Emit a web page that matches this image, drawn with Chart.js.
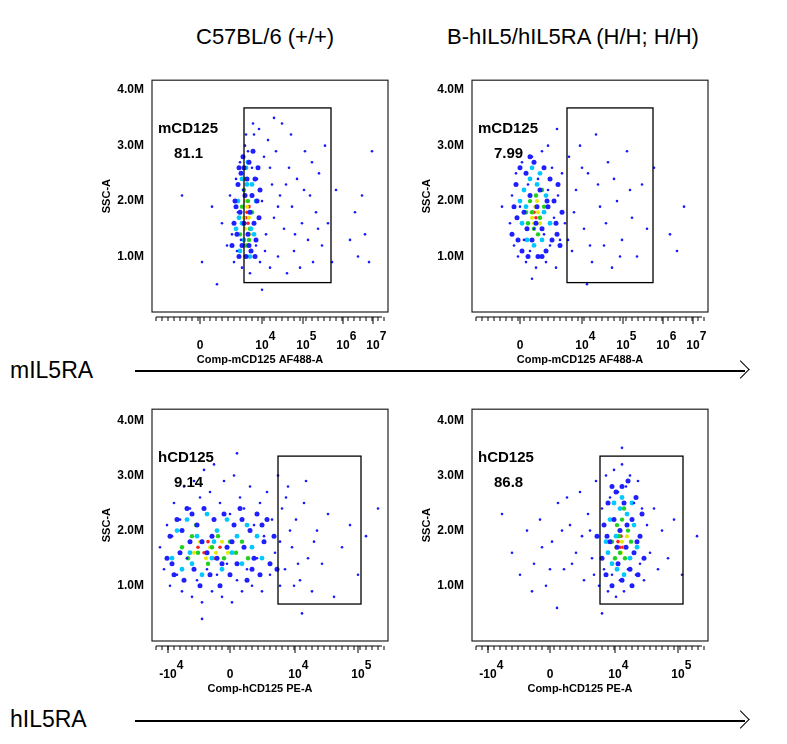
<!DOCTYPE html>
<html><head><meta charset="utf-8">
<script src="https://cdn.jsdelivr.net/npm/chart.js@4"></script>
<style>
body{margin:0;background:#fff;font-family:Arial,"Liberation Sans",sans-serif;}
#root{position:relative;width:787px;height:744px;}
.c{position:absolute;}
.t{position:absolute;font-size:22px;color:#000;white-space:nowrap;}
.arrow{position:absolute;height:1.5px;background:#000;}
.arrow:after{content:"";position:absolute;right:-2px;top:-7px;width:12px;height:12px;border-top:1.5px solid #000;border-right:1.5px solid #000;transform:rotate(45deg);transform-origin:center;}
</style></head><body>
<div id="root">
<div class="t" style="left:196px;top:24px">C57BL/6 (+/+)</div>
<div class="t" style="left:447px;top:24px">B-hIL5/hIL5RA (H/H; H/H)</div>
<div class="t" style="left:10px;top:357px;font-size:23px">mIL5RA</div>
<div class="arrow" style="left:135px;top:370px;width:610px"></div>
<div class="t" style="left:10px;top:706px;font-size:23px">hIL5RA</div>
<div class="arrow" style="left:135px;top:720px;width:610px"></div>
</div>
<script>
// x values in display units (0-236, biexponential axis), y in millions
const topTicks = [[48, "0", ""], [110, "10", "4"], [151, "10", "5"], [191, "10", "6"], [221, "10", "7"]];
const botTicks = [[16, "-10", "4"], [78, "0", ""], [143, "10", "4"], [206, "10", "5"]];
const yTicks = [1, 2, 3, 4];

// panel 1: C57BL/6 mCD125
const p1Blue = [70,1.6, 75,1.2, 78,2.1, 80,1.4, 82,0.9, 84,2.4, 85,1.1, 86,1.8, 88,2.7, 89,1.3, 90,0.8, 91,2.2, 93,3.0, 95,1.0, 96,2.9, 98,0.7, 100,2.6, 102,3.2, 104,1.2, 105,2.4, 107,3.3, 108,0.9, 110,2.0, 112,2.8, 114,1.4, 116,3.1, 118,0.8, 120,2.3, 122,1.7, 124,2.9, 126,1.0, 128,2.1, 130,3.4, 132,1.5, 135,0.7, 137,2.6, 140,1.9, 142,1.1, 145,2.4, 148,0.8, 150,1.6, 153,2.9, 156,1.3, 158,2.1, 161,0.9, 164,1.8, 167,2.5, 170,1.2, 173,3.0, 176,1.6, 180,0.9, 184,2.2, 198,1.3, 203,1.8, 206,1.0, 210,2.1, 213,1.4, 217,0.9, 220,2.9, 60,1.9, 50,0.9, 30,2.1, 65,0.5, 110,0.4, 122,3.5, 139,3.2, 118,2.6, 126,1.9, 134,2.3, 143,1.4, 152,2.2, 160,2.7, 166,1.5, 113,1.1, 101,3.4, 94,3.2];
const p1Core = [80,1.2, 82,1.6, 83,2.0, 85,1.4, 86,2.3, 87,1.0, 88,1.8, 89,2.5, 90,1.2, 91,2.8, 92,1.6, 93,2.1, 94,1.0, 95,2.4, 96,1.4, 97,2.7, 98,1.8, 99,1.1, 100,2.1, 101,2.9, 102,1.6, 103,2.4, 104,1.3, 105,2.0, 106,2.6, 107,1.7, 108,2.2, 84,1.9, 87,2.6, 92,2.6, 97,1.2, 103,1.0];
const p1Cyan = [84,1.5, 86,2.0, 88,1.1, 90,2.4, 92,1.3, 94,2.6, 98,1.0, 100,2.3, 102,1.4, 104,2.0, 96,2.7, 87,1.7, 90,1.6, 95,2.3, 99,1.5];
const p1Green = [88,1.4, 90,1.9, 92,2.2, 94,1.2, 96,2.0, 98,1.5, 100,1.8, 91,1.6, 93,2.4, 97,1.3];
const p1Yellow = [93,1.5, 95,1.9, 97,1.7, 94,2.0, 98,1.4, 92,1.7];
const p1Red = [94,1.7, 96,1.6, 95,1.8, 97,1.9];

// panel 2: B-hIL5/hIL5RA mCD125
const p2Blue = [38,1.6, 40,2.1, 42,1.2, 44,2.5, 46,1.0, 48,1.9, 50,2.7, 52,1.3, 54,0.9, 56,2.3, 58,1.1, 60,2.8, 62,1.5, 64,0.8, 66,2.4, 68,1.0, 70,2.9, 72,1.4, 74,0.9, 76,2.2, 78,1.2, 80,2.6, 82,1.7, 84,0.8, 86,2.1, 88,1.3, 90,2.5, 93,1.6, 97,2.8, 100,1.1, 104,2.2, 108,3.0, 112,1.5, 116,2.5, 120,0.9, 124,3.2, 128,1.9, 132,1.2, 136,2.7, 140,0.8, 145,2.0, 150,1.3, 155,2.9, 160,1.7, 165,1.0, 170,2.3, 175,1.5, 182,2.6, 198,1.4, 205,1.1, 212,1.9, 30,1.9, 85,3.3, 115,0.5, 60,0.6, 102,1.8, 110,2.6, 118,1.2, 126,2.3, 134,1.6, 142,2.4, 148,1.0, 158,2.2, 96,1.3, 76,3.0];
const p2Core = [40,1.4, 42,1.9, 44,2.3, 46,1.3, 48,2.6, 50,1.1, 52,1.8, 54,2.5, 56,1.0, 58,2.1, 60,1.3, 62,2.7, 64,1.6, 66,1.0, 68,2.2, 70,1.5, 72,2.6, 74,1.1, 76,1.9, 78,2.4, 80,1.3, 82,2.0, 84,1.6, 86,2.3, 88,1.2, 90,1.8, 45,1.7, 55,1.5, 65,1.9, 75,2.0, 85,1.4, 58,2.8, 70,1.0];
const p2Cyan = [50,1.6, 52,2.2, 55,1.3, 58,2.4, 62,1.2, 65,2.3, 70,1.3, 74,2.1, 78,1.6, 60,2.6, 54,1.9, 68,2.5, 48,2.0, 72,1.8];
const p2Green = [56,1.6, 58,2.0, 62,1.5, 64,2.1, 68,1.7, 72,1.9, 60,1.8, 66,1.4, 54,1.8, 70,2.2];
const p2Yellow = [60,1.7, 63,1.9, 66,1.8, 62,1.6, 65,2.0, 68,1.6];
const p2Red = [62,1.8, 64,1.7, 65,1.9];

// panel 3: C57BL/6 hCD125
const p3Blue = [8,1.7, 12,1.3, 15,2.1, 18,1.0, 20,1.9, 22,2.5, 25,1.2, 28,2.2, 30,0.9, 32,2.8, 35,1.5, 38,2.4, 40,0.8, 42,2.9, 45,1.1, 48,2.6, 50,0.7, 52,3.1, 55,1.3, 58,2.7, 60,0.9, 62,3.2, 65,1.2, 68,2.5, 70,0.8, 72,2.9, 75,1.4, 78,2.3, 80,0.7, 82,3.0, 85,1.1, 88,2.6, 90,0.9, 92,2.4, 95,1.3, 98,2.8, 100,1.0, 102,2.1, 105,1.5, 108,2.5, 110,0.9, 112,1.9, 115,2.7, 118,1.2, 120,2.2, 123,1.6, 126,3.0, 128,1.0, 130,2.4, 133,1.3, 136,2.8, 140,1.7, 144,2.2, 148,1.1, 152,2.5, 156,1.5, 160,0.9, 165,2.0, 170,1.4, 176,2.3, 182,0.8, 190,1.7, 198,2.1, 206,1.2, 214,1.9, 226,2.4, 50,0.4, 150,0.5, 85,3.4, 138,2.0, 146,1.4, 154,2.9, 162,1.8, 134,2.6, 142,1.0, 128,1.8];
const p3Core = [15,1.5, 18,1.9, 22,1.2, 25,2.2, 28,1.6, 32,1.1, 35,2.4, 38,1.8, 42,1.3, 45,2.1, 48,1.0, 52,2.4, 55,1.6, 58,1.2, 62,2.2, 65,1.5, 68,1.0, 72,2.3, 75,1.7, 78,1.2, 82,2.1, 85,1.4, 88,2.4, 92,1.7, 95,1.1, 98,2.0, 102,1.5, 105,2.3, 108,1.2, 112,1.8, 115,2.2, 118,1.4, 122,1.9, 125,1.3, 30,2.0, 40,2.3, 50,1.8, 60,1.9, 70,1.4, 80,1.8, 90,2.2, 100,1.3, 110,2.1, 20,1.4];
const p3Cyan = [20,1.5, 25,2.0, 30,1.3, 35,2.2, 40,1.4, 45,1.9, 50,1.2, 55,2.3, 60,1.5, 65,2.0, 70,1.3, 75,2.2, 80,1.6, 85,1.9, 90,1.4, 95,2.1, 100,1.7, 105,1.9, 110,1.5, 38,1.6, 62,1.8];
const p3Green = [30,1.7, 36,1.5, 40,1.9, 46,1.6, 50,1.8, 56,1.4, 60,1.7, 66,1.9, 72,1.5, 78,1.8, 84,1.6, 90,1.8, 96,1.5, 44,2.1];
const p3Yellow = [42,1.6, 48,1.8, 54,1.5, 58,1.7, 64,1.6, 70,1.8, 76,1.6];
const p3Red = [46,1.7, 52,1.6, 56,1.8, 62,1.5, 68,1.7];

// panel 4: B-hIL5/hIL5RA hCD125
const p4Blue = [40,1.6, 48,1.2, 55,2.0, 62,1.4, 68,2.2, 74,1.0, 80,1.8, 86,2.5, 92,1.3, 98,2.1, 104,1.6, 108,2.7, 112,1.1, 116,2.3, 120,1.5, 124,2.9, 127,1.0, 130,2.4, 132,1.3, 134,3.0, 136,0.9, 138,2.6, 140,1.2, 142,3.1, 144,0.8, 146,2.7, 148,1.1, 150,3.2, 152,0.9, 154,2.8, 156,1.3, 158,3.0, 160,1.0, 162,2.5, 164,1.2, 166,2.9, 168,1.4, 170,2.4, 172,1.1, 175,2.1, 178,1.6, 182,2.4, 186,1.3, 190,2.0, 196,1.5, 202,2.2, 210,1.2, 225,1.9, 30,2.3, 60,0.9, 85,0.6, 150,3.5, 130,0.5, 70,1.7, 90,2.0, 100,1.4, 110,1.9, 118,2.0, 122,1.2, 95,2.6, 78,1.3];
const p4Core = [130,1.5, 132,2.1, 134,1.2, 136,2.5, 138,1.8, 140,1.0, 142,2.2, 144,2.7, 146,1.4, 148,2.0, 150,1.1, 152,2.5, 154,1.7, 156,2.9, 158,1.3, 160,2.2, 162,1.6, 164,2.6, 166,1.2, 168,1.9, 170,2.3, 172,1.5, 135,1.9, 145,1.7, 155,2.1, 165,1.8, 140,2.8, 150,2.8, 160,1.0, 125,1.9];
const p4Cyan = [136,1.6, 138,2.2, 140,1.4, 142,2.5, 145,1.3, 148,2.4, 152,1.2, 155,2.3, 158,1.5, 162,2.1, 165,1.7, 150,2.6, 144,1.9, 160,2.5, 134,1.8];
const p4Green = [140,1.8, 143,1.5, 145,2.1, 148,1.6, 150,2.2, 153,1.5, 156,2.0, 159,1.8, 147,1.9, 152,2.4];
const p4Yellow = [144,1.7, 147,2.0, 150,1.8, 153,1.7, 149,1.6, 155,1.9];
const p4Red = [146,1.8, 149,1.9, 151,1.7, 148,1.7];

const tierColors = ["#1a1aff", "#2020ff", "#00c8ff", "#20d020", "#e8e800", "#ff2020"];
const tierRadius = [1.3, 2.5, 2.4, 2.2, 2, 1.8];

function toPts(arr) {
  const out = [];
  for (let i = 0; i < arr.length; i += 2) out.push({ x: arr[i], y: arr[i + 1] });
  return out;
}

const panels = [
  { left: 100, top: 70, sets: [p1Blue, p1Core, p1Cyan, p1Green, p1Yellow, p1Red], ticks: topTicks, yMax: 4.18,
    gate: [92, 179, 0.53, 3.68], label: "mCD125", value: "81.1", xTitle: "Comp-mCD125 AF488-A" },
  { left: 420, top: 70, sets: [p2Blue, p2Core, p2Cyan, p2Green, p2Yellow, p2Red], ticks: topTicks, yMax: 4.18,
    gate: [95, 181, 0.53, 3.68], label: "mCD125", value: "7.99", xTitle: "Comp-mCD125 AF488-A" },
  { left: 100, top: 399, sets: [p3Blue, p3Core, p3Cyan, p3Green, p3Yellow, p3Red], ticks: botTicks, yMax: 4.2,
    gate: [126, 209, 0.67, 3.35], label: "hCD125", value: "9.14", xTitle: "Comp-hCD125 PE-A" },
  { left: 420, top: 399, sets: [p4Blue, p4Core, p4Cyan, p4Green, p4Yellow, p4Red], ticks: botTicks, yMax: 4.2,
    gate: [128, 211, 0.67, 3.35], label: "hCD125", value: "86.8", xTitle: "Comp-hCD125 PE-A" }
];

const root = document.getElementById("root");

panels.forEach(p => {
  const cv = document.createElement("canvas");
  cv.className = "c";
  cv.width = 295;
  cv.height = 302;
  cv.style.left = p.left + "px";
  cv.style.top = p.top + "px";
  cv.style.width = "295px";
  cv.style.height = "302px";
  root.appendChild(cv);

  const decor = {
    id: "decor",
    afterDatasetsDraw(chart) {
      const { ctx, scales: { x, y }, chartArea: a } = chart;
      ctx.save();
      // gate
      const [x0, x1, y0, y1] = p.gate;
      ctx.strokeStyle = "#000";
      ctx.lineWidth = 1.3;
      ctx.strokeRect(x.getPixelForValue(x0), y.getPixelForValue(y1),
        x.getPixelForValue(x1) - x.getPixelForValue(x0), y.getPixelForValue(y0) - y.getPixelForValue(y1));
      // frame
      ctx.lineWidth = 1.2;
      ctx.strokeStyle = "#222";
      ctx.strokeRect(a.left, a.top, a.right - a.left, a.bottom - a.top);
      // gate label
      ctx.fillStyle = "#000";
      ctx.font = "bold 15px Arial";
      ctx.textAlign = "left";
      ctx.fillText(p.label, a.left + 6, a.top + 53);
      ctx.fillText(p.value, a.left + 22, a.top + 78);
      // x ticks
      ctx.lineWidth = 1;
      ctx.strokeStyle = "#000";
      p.ticks.forEach(([v, base, sup]) => {
        const px = x.getPixelForValue(v);
        ctx.beginPath(); ctx.moveTo(px, a.bottom + 5); ctx.lineTo(px, a.bottom + 12); ctx.stroke();
        ctx.font = "bold 12px Arial";
        ctx.textAlign = "center";
        const w = ctx.measureText(base).width;
        ctx.fillText(base, px, a.bottom + 37);
        if (sup) {
          ctx.textAlign = "left";
          ctx.fillText(sup, px + w / 2, a.bottom + 28);
        }
      });
      // minor ticks
      for (let v = 4; v < 236; v += 6) {
        const px = x.getPixelForValue(v);
        ctx.beginPath(); ctx.moveTo(px, a.bottom + 5); ctx.lineTo(px, a.bottom + 9); ctx.stroke();
      }
      ctx.beginPath(); ctx.moveTo(a.left + 4, a.bottom + 5); ctx.lineTo(a.right - 6, a.bottom + 5); ctx.stroke();
      ctx.font = "bold 11px Arial";
      ctx.textAlign = "center";
      ctx.fillText(p.xTitle, (a.left + a.right) / 2 - 10, a.bottom + 51);
      ctx.restore();
    }
  };

  new Chart(cv.getContext("2d"), {
    type: "scatter",
    data: {
      datasets: p.sets.map((s, i) => ({
        data: toPts(s),
        backgroundColor: tierColors[i],
        borderWidth: 0,
        pointRadius: tierRadius[i]
      }))
    },
    options: {
      responsive: false,
      animation: false,
      devicePixelRatio: 1,
      layout: { padding: { top: 6, right: 7 } },
      plugins: { legend: { display: false }, tooltip: { enabled: false } },
      scales: {
        x: {
          type: "linear", min: 0, max: 236,
          grid: { display: false, drawTicks: false },
          border: { display: false },
          ticks: { display: false },
          afterFit: s => { s.height = 60; }
        },
        y: {
          type: "linear", min: 0, max: p.yMax,
          afterBuildTicks: s => { s.ticks = yTicks.map(v => ({ value: v })); },
          grid: { display: false, drawTicks: true, tickLength: 5, tickColor: "#000" },
          border: { display: false },
          ticks: { color: "#000", font: { family: "Arial", weight: "bold", size: 12 }, padding: 3,
            callback: v => v.toFixed(1) + "M" },
          title: { display: true, text: "SSC-A", color: "#000", font: { family: "Arial", weight: "bold", size: 11 }, padding: 0 },
          afterFit: s => { s.width = 52; }
        }
      }
    },
    plugins: [decor]
  });
});
</script>
</body></html>
